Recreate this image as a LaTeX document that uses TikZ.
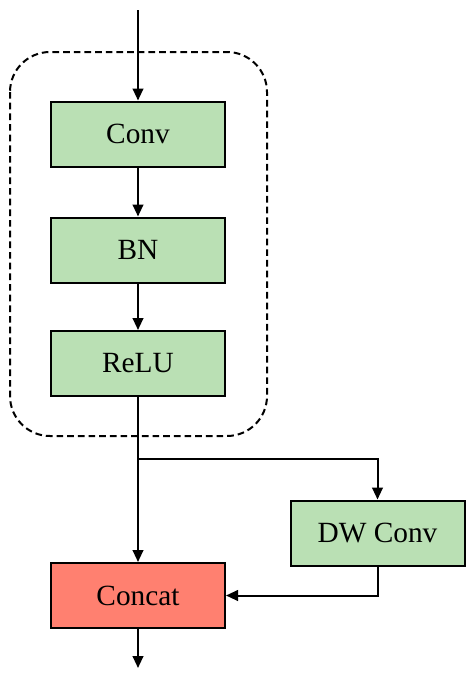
\documentclass[tikz,border=0pt]{standalone}
\usepackage{fontspec}
\setmainfont{Liberation Serif}
\usetikzlibrary{arrows.meta}
\definecolor{boxgreen}{RGB}{186,224,180}
\definecolor{boxred}{RGB}{255,128,112}
\begin{document}
\begin{tikzpicture}[x=0.75pt,y=-0.75pt,
  blk/.style={draw=black,line width=1.5pt,minimum width=174*0.75pt,minimum height=65*0.75pt,inner sep=0pt,font=\fontsize{22}{26}\selectfont},
  gbox/.style={blk,fill=boxgreen},
  rbox/.style={blk,fill=boxred},
  conn/.style={line width=1.5pt,-{Triangle[length=9pt,width=8pt]}},
  plain/.style={line width=1.5pt}]
\useasboundingbox (0,0) rectangle (474,678);
\draw[dashed,line width=1.5pt,dash pattern=on 5pt off 3pt,rounded corners=40*0.75pt] (10,52) rectangle (267,436);
\coordinate (in) at (138,10);
\node[gbox] (conv) at (138,134) {Conv};
\node[gbox] (bn) at (138,250) {BN};
\node[gbox] (relu) at (138,363.5) {ReLU};
\node[gbox] (dw) at (377.5,533) {DW Conv};
\node[rbox] (cat) at (138,595.5) {Concat};
\coordinate (split) at (138,459);
\coordinate (out) at (138,668);
\draw[conn] (in) -- (conv);
\draw[conn] (conv) -- (bn);
\draw[conn] (bn) -- (relu);
\draw[conn] (relu) -- (cat);
\draw[conn] (split) -| (dw);
\draw[conn] (dw.south) |- (cat.east);
\draw[conn] (cat) -- (out);
\end{tikzpicture}
\end{document}
